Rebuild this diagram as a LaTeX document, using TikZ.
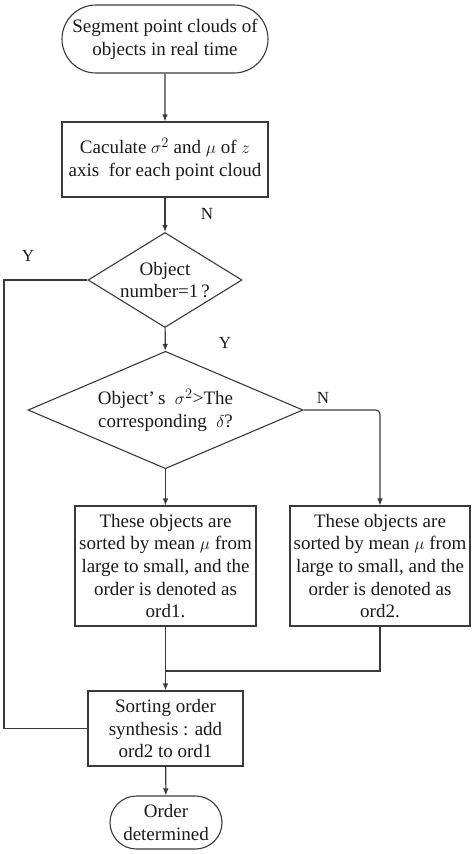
\documentclass[tikz,border=0pt]{standalone}
\usepackage{fontspec}
\setmainfont{Liberation Serif}
\usetikzlibrary{shapes.geometric,shapes.misc,arrows.meta}
\definecolor{ln}{HTML}{3A3A3A}
\definecolor{tx}{HTML}{1A1A1A}
\begin{document}
\begin{tikzpicture}[x=1pt,y=-1pt,
  every node/.style={font=\fontsize{19}{22.7}\selectfont, text=tx, align=center},
  box/.style={draw=ln, line width=1.1pt, rectangle, inner sep=0pt},
  term/.style={draw=ln, line width=1.1pt, rounded rectangle, inner sep=0pt},
  dia/.style={draw=ln, line width=1.1pt, diamond, inner sep=-15pt},
  conn/.style={draw=ln, line width=1.1pt},
  arr/.style={conn, -{Latex[length=7pt,width=5.5pt]}},
  lab/.style={font=\fontsize{17}{20}\selectfont}]
\useasboundingbox (0,0) rectangle (474,854);

\node[term, minimum width=206pt, minimum height=68pt] (start) at (165,39)
  {Segment point clouds of\\objects in real time};
\node[box, minimum width=206pt, minimum height=75pt] (calc) at (165,159.5)
  {Caculate $\sigma^{2}$ and $\mu$ of $z$\\axis\ \ for each point cloud};
\node[dia, minimum width=154pt, minimum height=95pt] (d1) at (165,280)
  {Object\\number=1\,?};
\node[dia, minimum width=275pt, minimum height=106pt] (d2) at (165.5,410)
  {Object’\,s \ $\sigma^{2}$>The\\corresponding \ $\delta$?};
\node[box, minimum width=181pt, minimum height=120pt] (ord1) at (165.5,566)
  {These objects are\\sorted by mean $\mu$ from\\large to small, and the\\order is denoted as\\ord1.};
\node[box, minimum width=180pt, minimum height=120pt] (ord2) at (380,566)
  {These objects are\\sorted by mean $\mu$ from\\large to small, and the\\order is denoted as\\ord2.};
\node[box, minimum width=155pt, minimum height=75pt] (synth) at (165.5,728.5)
  {Sorting order\\synthesis : add\\ord2 to ord1};
\node[term, minimum width=112pt, minimum height=53pt] (end) at (166,822.5)
  {Order\\determined};

\coordinate (leftx) at (4,280);
\coordinate (merge) at (165.5,671);

\draw[arr] (start) -- (calc);
\draw[arr] (calc) -- (d1);
\draw[arr] (d1) -- (d2);
\draw[arr] (d2) -- (ord1);
\draw[arr, rounded corners=4pt] (d2.east) -| (ord2.north);
\draw[conn] (ord1.south) -- (merge);
\draw[conn] (ord2.south) |- (merge);
\draw[arr] (merge) -- (synth.north);
\draw[conn] (d1.west) -- (leftx) |- (synth.west);
\draw[arr] (synth) -- (end);

\node[lab] (lN1) at (207,214) {N};
\node[lab] (lY1) at (28,256) {Y};
\node[lab] (lY2) at (225,343) {Y};
\node[lab] (lN2) at (323,398) {N};
\end{tikzpicture}
\end{document}
